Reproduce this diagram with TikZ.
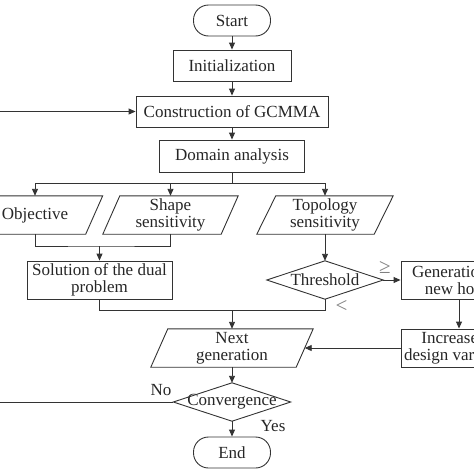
\documentclass[tikz,border=0pt]{standalone}
\usepackage{fontspec}
\setmainfont{Liberation Serif}
\usetikzlibrary{arrows.meta}
\definecolor{ln}{gray}{0.2}
\newcommand\parashape[2]{\draw[outline] ([xshift=#2]#1.north west) -- ([xshift=#2]#1.north east) -- ([xshift=-#2]#1.south east) -- ([xshift=-#2]#1.south west) -- cycle;}
\newcommand\diashape[1]{\draw[outline] (#1.north) -- (#1.east) -- (#1.south) -- (#1.west) -- cycle;}
\begin{document}
\begin{tikzpicture}[x=1pt,y=-1pt,
  base/.style={inner sep=0pt, align=center, font=\fontsize{17}{17}\selectfont, text=black!85, rectangle},
  proc/.style={base, draw=ln, line width=0.9pt},
  term/.style={proc, rounded corners=15pt},
  ghost/.style={base},
  outline/.style={draw=ln, line width=0.9pt, line join=miter},
  conn/.style={draw=ln, line width=0.9pt},
  arr/.style={conn, -{Triangle[length=7pt,width=6pt]}},
  lbl/.style={base}]
\useasboundingbox (0,0) rectangle (474,474);
\clip (0,0) rectangle (474,474);

\node[term, minimum width=77pt, minimum height=31pt] (start) at (232,20.5) {Start};
\node[proc, minimum width=118pt, minimum height=31pt] (init) at (232,65.5) {Initialization};
\node[proc, minimum width=192pt, minimum height=31pt] (constr) at (232,111.5) {Construction of GCMMA};
\node[proc, minimum width=145pt, minimum height=32pt] (dom) at (232,156) {Domain analysis};

\node[ghost, minimum width=118pt, minimum height=38pt] (obj) at (35,215) {Objective};
\parashape{obj}{8.5pt}
\node[ghost, minimum width=118pt, minimum height=38pt] (shape) at (170.5,215) {Shape\\sensitivity};
\parashape{shape}{8.5pt}
\node[ghost, minimum width=117pt, minimum height=38pt] (topo) at (325,215) {Topology\\sensitivity};
\parashape{topo}{9.5pt}

\node[proc, minimum width=145pt, minimum height=38pt] (dual) at (99.5,280) {Solution of the dual\\problem};
\node[ghost, minimum width=116pt, minimum height=38pt] (thr) at (325,280) {Threshold};
\diashape{thr}
\node[proc, minimum width=116pt, minimum height=38pt] (gen) at (459,280) {Generation of\\new holes};
\node[proc, minimum width=116pt, minimum height=38pt] (inc) at (459,348) {Increase of\\design variables};

\node[ghost, minimum width=145pt, minimum height=38pt] (next) at (232,348) {Next\\generation};
\parashape{next}{8.5pt}
\node[ghost, minimum width=117pt, minimum height=38pt] (conv) at (232,402) {Convergence};
\diashape{conv}
\node[term, minimum width=77pt, minimum height=31pt] (end) at (232,452.5) {End};

\coordinate (br) at (232,183);
\coordinate (j1) at (99.5,246);
\coordinate (j2) at (232,310.5);
\coordinate (lp) at (-20,402);

\draw[arr] (start) -- (init);
\draw[arr] (init) -- (constr);
\draw[arr] (constr) -- (dom);
\draw[conn] (dom.south) -- (br);
\draw[arr] (br) -| (obj.north);
\draw[arr] (br) -| (shape.north);
\draw[arr] (br) -| (topo.north);
\draw[conn] (obj.south) |- (j1) -| (shape.south);
\draw[arr] (j1) -- (dual.north);
\draw[arr] (topo.south) -- (thr.north);
\draw[arr] (thr.east) -- (gen.west);
\draw[arr] (gen.south) -- (inc.north);
\draw[conn] (dual.south) |- (j2);
\draw[conn] (thr.south) |- (j2);
\draw[arr] (j2) -- (next.north);
\draw[arr] (inc.west) -- (next.east);
\draw[arr] (next.south) -- (conv.north);
\draw[arr] (conv.south) -- (end.north);
\draw[arr] (conv.west) -- (lp) |- (constr.west);

\node[lbl, text=gray, font=\fontsize{21}{21}\selectfont] (ge) at (385,267) {≥};
\node[lbl, text=gray, font=\fontsize{21}{21}\selectfont] (lt) at (341.5,306) {<};
\node[lbl] (no) at (161,390) {No};
\node[lbl] (yes) at (273,426) {Yes};
\end{tikzpicture}
\end{document}
